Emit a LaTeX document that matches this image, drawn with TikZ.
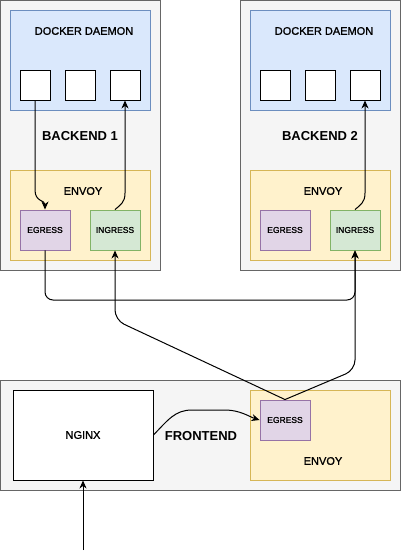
\documentclass[tikz,border=0pt]{standalone}
\usepackage{fontspec}
\setmainfont{Liberation Sans}
\newfontfamily\medio[FakeBold=1.2]{Liberation Sans}
\usetikzlibrary{arrows.meta}

\definecolor{grisfondo}{HTML}{F5F5F5}
\definecolor{grisborde}{HTML}{666666}
\definecolor{azulfondo}{HTML}{DAE8FC}
\definecolor{azulborde}{HTML}{6C8EBF}
\definecolor{amarillofondo}{HTML}{FFF2CC}
\definecolor{amarilloborde}{HTML}{D6B656}
\definecolor{moradofondo}{HTML}{E1D5E7}
\definecolor{moradoborde}{HTML}{9673A6}
\definecolor{verdefondo}{HTML}{D5E8D4}
\definecolor{verdeborde}{HTML}{82B366}

\begin{document}
\begin{tikzpicture}[x=1pt, y=-1pt,
		caja/.style={draw, inner sep=0pt, line width=0.9pt},
		servidor/.style={caja, fill=grisfondo, draw=grisborde},
		demonio/.style={caja, fill=azulfondo, draw=azulborde, minimum width=140pt, minimum height=100pt},
		contenedor/.style={caja, fill=white, draw=black, minimum width=30pt, minimum height=30pt},
		proxy/.style={caja, fill=amarillofondo, draw=amarilloborde, minimum width=140pt, minimum height=90pt},
		salida/.style={caja, fill=moradofondo, draw=moradoborde, minimum width=50pt, minimum height=40pt, font=\medio\fontsize{8.5}{10}\selectfont},
		entrada/.style={caja, fill=verdefondo, draw=verdeborde, minimum width=50pt, minimum height=40pt, font=\medio\fontsize{8.5}{10}\selectfont},
		etiqueta/.style={font=\medio\fontsize{11}{13}\selectfont},
		titulo/.style={font=\fontsize{13}{15}\selectfont\bfseries},
		flecha/.style={-{Stealth[length=8pt, width=7pt, inset=2.5pt]}, line width=1pt}]
		
		\useasboundingbox (0,0) rectangle (401,559);
		
		% Dibujar los dos backends
		\foreach \n/\dx in {1/0, 2/240} {
			\node[servidor, minimum width=160pt, minimum height=270pt] (b\n) at (80+\dx,135) {};
			\node[demonio] (b\n dd) at (80+\dx,60) {};
			\node[etiqueta] (b\n ddt) at (84+\dx,31) {DOCKER DAEMON};
			\foreach \c/\cx in {1/35, 2/80, 3/125} {
				\node[contenedor] (b\n c\c) at (\cx+\dx,85) {};
			}
			\node[titulo] (b\n t) at (80+\dx,136) {BACKEND \n};
			\node[proxy] (b\n env) at (80+\dx,215) {};
			\node[etiqueta] (b\n envt) at (83+\dx,191) {ENVOY};
		}
		\node[salida] (b1eg) at (45,230) {EGRESS};
		\node[entrada] (b1in) at (115,230) {INGRESS};
		\node[salida] (b2eg) at (285,230) {EGRESS};
		\node[entrada] (b2in) at (355,230) {INGRESS};
		
		% Dibujar el frontend
		\node[servidor, minimum width=400pt, minimum height=110pt] (fe) at (200,435) {};
		\node[caja, fill=white, draw=black, minimum width=140pt, minimum height=90pt, etiqueta] (nginx) at (83,435) {NGINX};
		\node[titulo] (fet) at (201,436) {FRONTEND};
		\node[proxy] (feenv) at (320,435) {};
		\node[etiqueta] (feenvt) at (323,461) {ENVOY};
		\node[salida] (feeg) at (285,420) {EGRESS};
		
		% Flechas dentro de los backends
		\draw[flecha] (b1c1.south) -- (35,190) .. controls (35,202) and (45,200) .. (b1eg.north);
		\draw[flecha] (b1in.north) .. controls (120,205) and (125,203) .. (125,193) -- (b1c3.south);
		\draw[flecha] (b2in.north) .. controls (360,205) and (365,203) .. (365,193) -- (b2c3.south);
		
		% Flechas entre servicios
		\draw[flecha, rounded corners=8pt] (b1eg.south) -- (45,300) -- (355,300) -- (b2in.south);
		\draw[flecha, rounded corners=10pt] (feeg.north) -- (115,320) -- (b1in.south);
		\draw[flecha, rounded corners=10pt] (feeg.north) -- (355,370) -- (b2in.south);
		\draw[flecha] (nginx.east) .. controls (168,420) and (175,410) .. (192,410) -- (225,410) .. controls (240,410) and (250,417) .. (feeg.west);
		
		% Entrada de peticiones
		\coordinate (cliente) at (83,550);
		\draw[flecha] (cliente) -- (nginx.south);
		
\end{tikzpicture}
\end{document}
